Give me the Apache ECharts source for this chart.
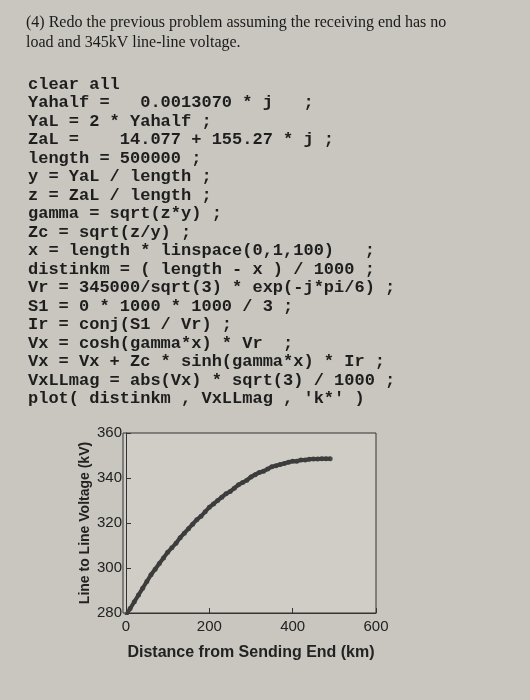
<!DOCTYPE html>
<html>
<head>
<meta charset="utf-8">
<script src="https://cdn.jsdelivr.net/npm/echarts@6/dist/echarts.min.js"></script>
<style>html,body{margin:0;padding:0;background:#c8c6bf}#main{width:530px;height:700px}</style>
</head>
<body>
<div id="main"></div>
<script>
// 题目文字
var headLines = [
  '(4) Redo the previous problem assuming the receiving end has no',
  'load and 345kV line-line voltage.'
];
// 代码
var codeLines = [
  'clear all',
  'Yahalf =   0.0013070 * j   ;',
  'YaL = 2 * Yahalf ;',
  'ZaL =    14.077 + 155.27 * j ;',
  'length = 500000 ;',
  'y = YaL / length ;',
  'z = ZaL / length ;',
  'gamma = sqrt(z*y) ;',
  'Zc = sqrt(z/y) ;',
  'x = length * linspace(0,1,100)   ;',
  'distinkm = ( length - x ) / 1000 ;',
  'Vr = 345000/sqrt(3) * exp(-j*pi/6) ;',
  'S1 = 0 * 1000 * 1000 / 3 ;',
  'Ir = conj(S1 / Vr) ;',
  'Vx = cosh(gamma*x) * Vr  ;',
  'Vx = Vx + Zc * sinh(gamma*x) * Ir ;',
  'VxLLmag = abs(Vx) * sqrt(3) / 1000 ;',
  "plot( distinkm , VxLLmag , 'k*' )"
];
// 曲线数据 (km, kV)
var distKm = [0,10,20,30,40,50,60,70,80,90,100,110,120,130,140,150,160,170,180,190,200,210,220,230,240,250,260,270,280,290,300,310,320,330,340,350,360,370,380,390,400,410,420,430,440,450,460,470,480,490];
var voltKv = [279,282,285,288,291,294,297,299.5,302,304.5,307,309,311,313.5,315.5,317.5,319.5,321.5,323,325,327,328.5,330,331.5,333,334,335.5,337,338,339,340.5,341.5,342.5,343,344,345,345.5,346,346.5,347,347.5,347.5,348,348,348.3,348.5,348.5,348.6,348.6,348.6];
var xTicks = [0, 200, 400, 600];
var yTicks = [280, 300, 320, 340, 360];

var pts = distKm.map(function (d, i) { return [d, voltKv[i]]; });

var graphics = [];
headLines.forEach(function (t, i) {
  graphics.push({ type: 'text', left: 26, top: 15 + i * 20,
    style: { text: t, font: '16px "Liberation Serif"', fill: '#1a1a1a' } });
});
codeLines.forEach(function (t, i) {
  graphics.push({ type: 'text', left: 28, top: 76 + i * 18.5,
    style: { text: t, font: 'bold 17px "Liberation Mono"', fill: '#1e1e1e' } });
});
// 画布底色和边框
graphics.push({ type: 'rect', shape: { x: 123, y: 433, width: 253, height: 180 },
  style: { fill: '#cfcdc6', stroke: '#333', lineWidth: 1 }, z: -1 });

var option = {
  backgroundColor: '#c8c6bf',
  animation: false,
  graphic: graphics,
  grid: { left: 126, top: 433, width: 250, height: 180 },
  xAxis: {
    type: 'value', min: 0, max: 600, interval: 200,
    name: 'Distance from Sending End (km)', nameLocation: 'middle', nameGap: 32,
    nameTextStyle: { fontFamily: 'Liberation Sans', fontWeight: 'bold', fontSize: 16, color: '#222' },
    axisLine: { show: true, lineStyle: { color: '#333' } },
    axisTick: { inside: true, lineStyle: { color: '#333' } },
    axisLabel: { fontFamily: 'Liberation Sans', fontSize: 15, color: '#222', margin: 6,
      formatter: function (v) { return xTicks.indexOf(v) >= 0 ? v : ''; } },
    splitLine: { show: false }
  },
  yAxis: {
    type: 'value', min: 280, max: 360, interval: 20,
    name: 'Line to Line Voltage (kV)', nameLocation: 'middle', nameGap: 34,
    nameTextStyle: { fontFamily: 'Liberation Sans', fontWeight: 'bold', fontSize: 14, color: '#222' },
    axisLine: { show: true, lineStyle: { color: '#333' } },
    axisTick: { inside: true, lineStyle: { color: '#333' } },
    axisLabel: { fontFamily: 'Liberation Sans', fontSize: 15, color: '#222', margin: 4,
      formatter: function (v) { return yTicks.indexOf(v) >= 0 ? v : ''; } },
    splitLine: { show: false }
  },
  series: [{
    type: 'line', data: pts, symbol: 'none',
    lineStyle: { color: '#3c3c3c', width: 4 }
  }, {
    type: 'scatter', data: pts, symbol: 'circle', symbolSize: 5,
    itemStyle: { color: '#2a2a2a' }
  }]
};

var myChart = echarts.init(document.getElementById('main'));
myChart.setOption(option);
</script>
</body>
</html>
